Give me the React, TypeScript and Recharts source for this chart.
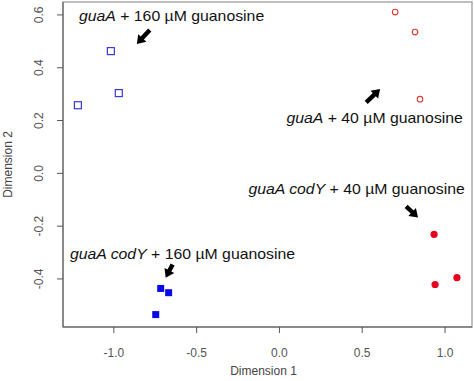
import React from 'react';
import {
  ScatterChart,
  Scatter,
  XAxis,
  YAxis,
  ReferenceDot,
  ReferenceLine,
  ReferenceArea,
} from 'recharts';

// MDS coordinates
const guaA160 = [
  { x: -1.018, y: 0.463 },
  { x: -0.97, y: 0.304 },
  { x: -1.217, y: 0.258 },
];
const guaA40 = [
  { x: 0.699, y: 0.611 },
  { x: 0.819, y: 0.535 },
  { x: 0.849, y: 0.281 },
];
const codY40 = [
  { x: 0.934, y: -0.231 },
  { x: 0.94, y: -0.421 },
  { x: 1.072, y: -0.395 },
];
const codY160 = [
  { x: -0.717, y: -0.436 },
  { x: -0.669, y: -0.452 },
  { x: -0.747, y: -0.535 },
];

const xTicks = [-1.0, -0.5, 0.0, 0.5, 1.0];
const yTicks = [-0.4, -0.2, 0.0, 0.2, 0.4, 0.6];
const xDomain: [number, number] = [-1.307, 1.163];
const yDomain: [number, number] = [-0.582, 0.649];

// annotation text: italic strain part + plain rest, anchored at left baseline
const labels = [
  { strain: 'guaA', rest: ' + 160 µM guanosine', x: -1.211, y: 0.577 },
  { strain: 'guaA', rest: ' + 40 µM guanosine', x: 0.042, y: 0.19 },
  { strain: 'guaA codY', rest: ' + 40 µM guanosine', x: -0.187, y: -0.08 },
  { strain: 'guaA codY', rest: ' + 160 µM guanosine', x: -1.265, y: -0.326 },
];

// arrows: tail -> head
const arrows = [
  { x1: -0.783, y1: 0.543, x2: -0.861, y2: 0.49 },
  { x1: 0.524, y1: 0.269, x2: 0.608, y2: 0.319 },
  { x1: 0.765, y1: -0.125, x2: 0.837, y2: -0.167 },
  { x1: -0.645, y1: -0.345, x2: -0.687, y2: -0.395 },
];

const FONT = '"Liberation Sans", Arial, sans-serif';

const OpenSquare = (p: any) => (
  <rect x={p.cx - 3.5} y={p.cy - 3.5} width={7} height={7} fill="none" stroke="#3a3ad6" strokeWidth={1.2} />
);
const FilledSquare = (p: any) => (
  <rect x={p.cx - 3.5} y={p.cy - 3.5} width={7} height={7} fill="#0a0ae8" />
);
const OpenCircle = (p: any) => (
  <circle cx={p.cx} cy={p.cy} r={2.8} fill="none" stroke="#e03838" strokeWidth={1.1} />
);
const FilledCircle = (p: any) => <circle cx={p.cx} cy={p.cy} r={3.6} fill="#e8001c" />;

const Arrow = (p: any) => {
  const { x1, y1, x2, y2 } = p;
  const dx = x2 - x1;
  const dy = y2 - y1;
  const len = Math.sqrt(dx * dx + dy * dy);
  const ux = dx / len;
  const uy = dy / len;
  const nx = -uy;
  const ny = ux;
  const headLen = 8;
  const shaft = 2.2;
  const head = 5.5;
  const bx = x2 - ux * headLen;
  const by = y2 - uy * headLen;
  const pts = [
    [x1 + nx * shaft, y1 + ny * shaft],
    [bx + nx * shaft, by + ny * shaft],
    [bx + nx * head, by + ny * head],
    [x2, y2],
    [bx - nx * head, by - ny * head],
    [bx - nx * shaft, by - ny * shaft],
    [x1 - nx * shaft, y1 - ny * shaft],
  ]
    .map((q) => q.join(','))
    .join(' ');
  return <polygon points={pts} fill="#000" />;
};

const YTick = (p: any) => {
  const { y, payload } = p;
  return (
    <text
      x={39}
      y={y}
      transform={`rotate(-90, 39, ${y})`}
      textAnchor="middle"
      dominantBaseline="central"
      fontSize={12}
      fontFamily={FONT}
      fill="#555"
    >
      {Number(payload.value).toFixed(1)}
    </text>
  );
};

export default function App() {
  return (
    <div style={{ position: 'absolute', left: 0, top: 0, background: '#fff' }}>
      <ScatterChart width={474} height={381} margin={{ top: 2, right: 2, left: 0, bottom: 0 }}>
        <XAxis
          type="number"
          dataKey="x"
          domain={xDomain}
          ticks={xTicks}
          allowDataOverflow
          height={54}
          tickSize={6}
          tickMargin={15}
          tickFormatter={(v: number) => v.toFixed(1)}
          stroke="#555"
          tick={{ fill: '#555', fontSize: 12, fontFamily: FONT }}
          label={{
            value: 'Dimension 1',
            position: 'insideBottom',
            offset: 6,
            dx: -4,
            fill: '#444',
            fontSize: 12,
            fontFamily: FONT,
          }}
        />
        <YAxis
          type="number"
          dataKey="y"
          domain={yDomain}
          ticks={yTicks}
          allowDataOverflow
          width={63}
          tickSize={6}
          stroke="#555"
          tick={<YTick />}
          label={(props: any) => {
            const vb = props.viewBox || { y: 2, height: 325 };
            const cy = vb.y + vb.height / 2;
            return (
              <text
                x={8}
                y={cy}
                transform={`rotate(-90, 8, ${cy})`}
                textAnchor="middle"
                dominantBaseline="central"
                fontSize={12}
                fontFamily={FONT}
                fill="#444"
              >
                Dimension 2
              </text>
            );
          }}
        />
        <ReferenceArea
          x1={xDomain[0]}
          x2={xDomain[1]}
          y1={yDomain[0]}
          y2={yDomain[1]}
          fill="none"
          stroke="#aaa"
          strokeWidth={1.5}
          ifOverflow="visible"
        />
        <Scatter data={guaA160} shape={OpenSquare} isAnimationActive={false} />
        <Scatter data={guaA40} shape={OpenCircle} isAnimationActive={false} />
        <Scatter data={codY40} shape={FilledCircle} isAnimationActive={false} />
        <Scatter data={codY160} shape={FilledSquare} isAnimationActive={false} />
        {arrows.map((a, i) => (
          <ReferenceLine
            key={`arrow-${i}`}
            segment={[
              { x: a.x1, y: a.y1 },
              { x: a.x2, y: a.y2 },
            ]}
            ifOverflow="visible"
            shape={Arrow}
          />
        ))}
        {labels.map((l, i) => (
          <ReferenceDot
            key={`label-${i}`}
            x={l.x}
            y={l.y}
            ifOverflow="visible"
            shape={(p: any) => (
              <text
                x={0}
                y={0}
                transform={`translate(${p.cx}, ${p.cy}) scale(1.13, 1)`}
                fontSize={14}
                fontFamily={FONT}
                fill="#111"
              >
                <tspan fontStyle="italic">{l.strain}</tspan>
                <tspan>{l.rest}</tspan>
              </text>
            )}
          />
        ))}
      </ScatterChart>
    </div>
  );
}
